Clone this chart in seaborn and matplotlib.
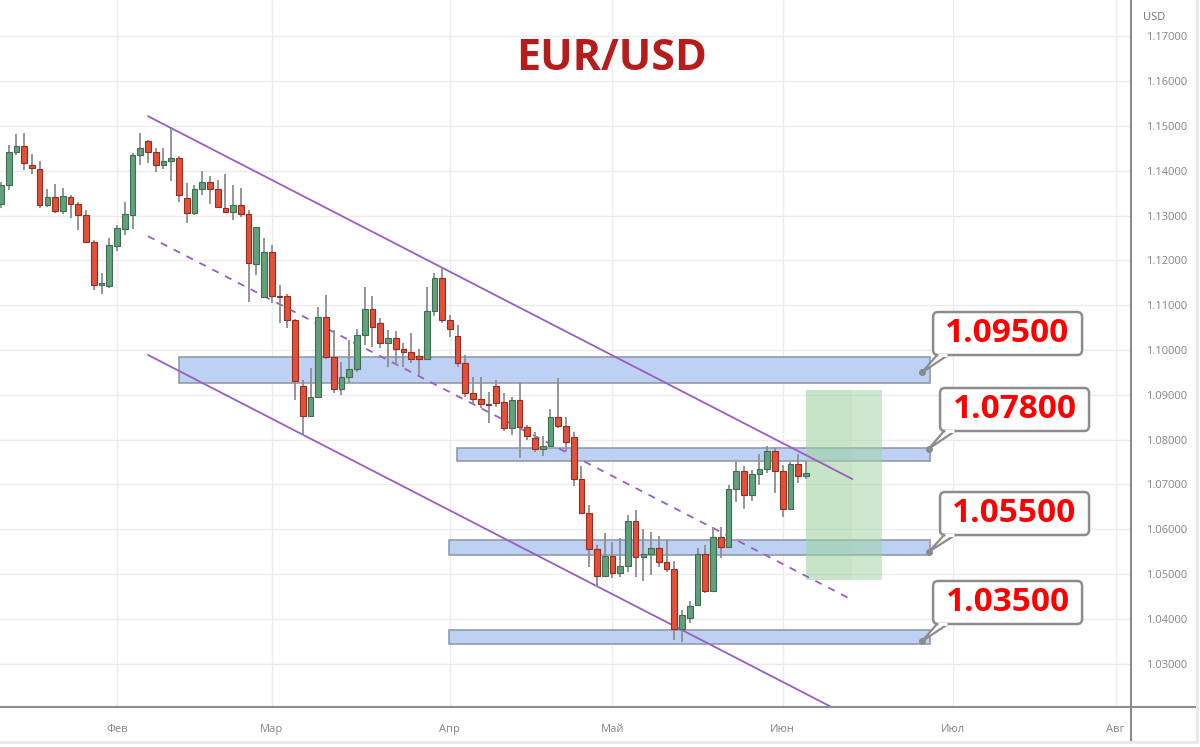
"""
EUR/USD: дневные свечи, канал и уровни
"""

import matplotlib
matplotlib.use('Agg')
import matplotlib.pyplot as plt
from matplotlib.patches import Rectangle, FancyBboxPatch, Polygon
from matplotlib.lines import Line2D
import seaborn as sns
import pandas as pd
import numpy as np

# Дневные свечи (торговые дни)
dates = pd.bdate_range('2022-01-11', '2022-06-06')
opens = [1.1327, 1.1368, 1.1441, 1.1456, 1.1413, 1.1405, 1.1324, 1.1342, 1.1311, 1.1342,
         1.1326, 1.1301, 1.1242, 1.1145, 1.1143, 1.1233, 1.1269, 1.1301, 1.1435, 1.1467,
         1.1443, 1.1414, 1.1423, 1.1429, 1.1339, 1.1305, 1.1359, 1.1374, 1.1359, 1.1316,
         1.1309, 1.1324, 1.1304, 1.1192, 1.1119, 1.1219, 1.1121, 1.1121, 1.1067, 1.0920,
         1.0853, 1.0896, 1.1074, 1.0984, 1.0912, 1.0940, 1.0957, 1.1033, 1.1092, 1.1060,
         1.1015, 1.1027, 1.1002, 1.0996, 1.0987, 1.0981, 1.1086, 1.1160, 1.1067, 1.1031,
         1.0970, 1.0903, 1.0891, 1.0879, 1.0920, 1.0883, 1.0827, 1.0888, 1.0829, 1.0803,
         1.0779, 1.0786, 1.0850, 1.0831, 1.0806, 1.0711, 1.0637, 1.0555, 1.0496, 1.0541,
         1.0503, 1.0518, 1.0619, 1.0539, 1.0545, 1.0557, 1.0526, 1.0511, 1.0377, 1.0401,
         1.0431, 1.0545, 1.0461, 1.0582, 1.0560, 1.0689, 1.0731, 1.0676, 1.0723, 1.0734,
         1.0775, 1.0731, 1.0644, 1.0746, 1.0719]
highs = [1.1376, 1.1458, 1.1482, 1.1485, 1.1437, 1.1423, 1.1359, 1.1371, 1.1361, 1.1346,
         1.1331, 1.1312, 1.1246, 1.1173, 1.1249, 1.1279, 1.1331, 1.1439, 1.1485, 1.1469,
         1.1450, 1.1450, 1.1495, 1.1432, 1.1372, 1.1368, 1.1399, 1.1388, 1.1379, 1.1393,
         1.1368, 1.1361, 1.1312, 1.1275, 1.1249, 1.1234, 1.1145, 1.1125, 1.1070, 1.0933,
         1.0959, 1.1095, 1.1123, 1.1045, 1.0974, 1.1022, 1.1048, 1.1140, 1.1121, 1.1071,
         1.1045, 1.1043, 1.1015, 1.1039, 1.1002, 1.1140, 1.1171, 1.1185, 1.1078, 1.1056,
         1.0989, 1.0940, 1.0940, 1.0907, 1.0933, 1.0905, 1.0896, 1.0926, 1.0833, 1.0818,
         1.0807, 1.0868, 1.0937, 1.0851, 1.0818, 1.0740, 1.0654, 1.0565, 1.0592, 1.0572,
         1.0580, 1.0632, 1.0643, 1.0600, 1.0594, 1.0585, 1.0576, 1.0529, 1.0420, 1.0440,
         1.0557, 1.0565, 1.0606, 1.0606, 1.0699, 1.0751, 1.0740, 1.0732, 1.0768, 1.0786,
         1.0781, 1.0743, 1.0751, 1.0768, 1.0753]
lows = [1.1316, 1.1357, 1.1435, 1.1402, 1.1394, 1.1318, 1.1320, 1.1305, 1.1303, 1.1294,
        1.1268, 1.1238, 1.1134, 1.1125, 1.1138, 1.1222, 1.1257, 1.1269, 1.1413, 1.1417,
        1.1398, 1.1404, 1.1377, 1.1331, 1.1283, 1.1301, 1.1346, 1.1327, 1.1318, 1.1309,
        1.1290, 1.1298, 1.1108, 1.1167, 1.1117, 1.1106, 1.1060, 1.1050, 1.0888, 1.0810,
        1.0851, 1.0892, 1.0981, 1.0903, 1.0900, 1.0926, 1.0952, 1.1011, 1.1007, 1.1004,
        1.0963, 1.0967, 1.0963, 1.0970, 1.0944, 1.0978, 1.1075, 1.1060, 1.1030, 1.0963,
        1.0896, 1.0877, 1.0870, 1.0836, 1.0873, 1.0820, 1.0810, 1.0758, 1.0799, 1.0773,
        1.0763, 1.0783, 1.0825, 1.0773, 1.0696, 1.0635, 1.0516, 1.0472, 1.0494, 1.0490,
        1.0493, 1.0505, 1.0494, 1.0485, 1.0498, 1.0515, 1.0505, 1.0353, 1.0349, 1.0390,
        1.0428, 1.0458, 1.0459, 1.0535, 1.0559, 1.0661, 1.0644, 1.0664, 1.0699, 1.0726,
        1.0680, 1.0628, 1.0643, 1.0704, 1.0711]
closes = [1.1368, 1.1441, 1.1456, 1.1417, 1.1406, 1.1324, 1.1342, 1.1311, 1.1344, 1.1326,
          1.1301, 1.1242, 1.1145, 1.1150, 1.1234, 1.1272, 1.1303, 1.1435, 1.1452, 1.1443,
          1.1414, 1.1423, 1.1429, 1.1346, 1.1305, 1.1359, 1.1374, 1.1359, 1.1320, 1.1309,
          1.1324, 1.1303, 1.1194, 1.1274, 1.1219, 1.1120, 1.1119, 1.1067, 1.0931, 1.0853,
          1.0896, 1.1074, 1.0984, 1.0912, 1.0940, 1.0957, 1.1033, 1.1092, 1.1051, 1.1015,
          1.1027, 1.1002, 1.0996, 1.0981, 1.0981, 1.1086, 1.1160, 1.1067, 1.1048, 1.0970,
          1.0903, 1.0891, 1.0879, 1.0878, 1.0882, 1.0827, 1.0888, 1.0829, 1.0809, 1.0779,
          1.0786, 1.0850, 1.0831, 1.0795, 1.0711, 1.0637, 1.0555, 1.0496, 1.0541, 1.0503,
          1.0518, 1.0619, 1.0539, 1.0545, 1.0557, 1.0526, 1.0511, 1.0377, 1.0408, 1.0429,
          1.0545, 1.0461, 1.0582, 1.0560, 1.0689, 1.0731, 1.0676, 1.0723, 1.0734, 1.0775,
          1.0731, 1.0644, 1.0746, 1.0719, 1.0725]

# Уровни поддержки/сопротивления (зоны)
levels = [1.095, 1.078, 1.055, 1.035]
level_labels = ['1.09500', '1.07800', '1.05500', '1.03500']
zone_low = [1.0927, 1.0753, 1.0542, 1.0344]
zone_high = [1.0985, 1.0782, 1.0576, 1.0375]

# Канал: верхняя, средняя и нижняя граница (начало / конец)
channel_top = [1.1522, 1.0712]
channel_mid = [1.1254, 1.0442]
channel_bot = [1.0989, 1.0179]

# Зона цели (зелёный прямоугольник)
target_range = [1.0487, 1.0911]

month_starts = ['2022-02-01', '2022-03-01', '2022-04-01', '2022-05-02',
                '2022-06-01', '2022-07-01', '2022-08-01']
month_labels = ['Фев', 'Мар', 'Апр', 'Май', 'Июн', 'Июл', 'Авг']
price_ticks = [1.03, 1.04, 1.05, 1.06, 1.07, 1.08, 1.09, 1.10,
               1.11, 1.12, 1.13, 1.14, 1.15, 1.16, 1.17]

GREEN = '#62a07c'
GREEN_EDGE = '#3d6e52'
RED = '#e0513b'
RED_EDGE = '#9a2c1d'
WICK = '#8e8e8e'
PURPLE = '#9b5cc4'
ZONE_FC = '#b9cff4'
ZONE_EC = '#8e97a3'
AXIS_GREY = '#8c8c8c'

sns.set_theme(style='white')
plt.rcParams['font.family'] = ['Open Sans', 'DejaVu Sans']

fig = plt.figure(figsize=(12, 7.47), dpi=100)
fig.patch.set_facecolor('white')
ax = fig.add_axes([0, 1 - 707 / 747, 1131 / 1200, 707 / 747])

XLIM = (-0.12, 146.0)
YLIM = (1.02031, 1.17813)
ax.set_xlim(*XLIM)
ax.set_ylim(*YLIM)
# размер пикселя в единицах данных
x_px = (XLIM[1] - XLIM[0]) / 1131
y_px = (YLIM[1] - YLIM[0]) / 707

# календарь торговых дней, включая будущие бары
cal = pd.bdate_range('2022-01-11', '2022-08-31')
pos = cal.get_indexer(dates)
o = np.array(opens)
h = np.array(highs)
l = np.array(lows)
c = np.array(closes)
up = c >= o

# зоны уровней
zone_x0 = [23.0, 58.9, 57.9, 57.9]
zone_x1 = 120.0
for lo, hi, x0 in zip(zone_low, zone_high, zone_x0):
    ax.add_patch(Rectangle((x0, lo), zone_x1 - x0, hi - lo, facecolor=ZONE_FC,
                           edgecolor=ZONE_EC, lw=1.2, alpha=0.95, zorder=1))

# зелёная зона цели
ax.add_patch(Rectangle((104.0, target_range[0]), 9.8, target_range[1] - target_range[0],
                       facecolor='#9fd3a2', edgecolor='none', alpha=0.5, zorder=1.5))
ax.add_patch(Rectangle((104.0, target_range[0]), 6.0, target_range[1] - target_range[0],
                       facecolor='#9fd3a2', edgecolor='none', alpha=0.15, zorder=1.6))

# канал
ch_x = [19.0, 110.0]
sns.lineplot(x=ch_x, y=channel_top, ax=ax, color=PURPLE, lw=1.3, zorder=2)
sns.lineplot(x=ch_x, y=channel_bot, ax=ax, color=PURPLE, lw=1.3, zorder=2)
ax.plot(ch_x, channel_mid, color=PURPLE, lw=1.3, dashes=(4, 4), zorder=2)

# свечи
ax.vlines(pos, l, h, color=WICK, lw=1.3, zorder=3)
body = np.maximum(np.abs(c - o), 0.00014)
ax.bar(pos[up], body[up], bottom=o[up], width=0.74, color=GREEN,
       edgecolor=GREEN_EDGE, lw=0.8, zorder=4)
ax.bar(pos[~up], body[~up], bottom=c[~up], width=0.74, color=RED,
       edgecolor=RED_EDGE, lw=0.8, zorder=4)

# выноски с уровнями
dot_x = [119.0, 119.9, 119.9, 119.0]
box_left = [120.43, 121.33, 121.33, 120.43]
box_top = [1.10848, 1.09152, 1.06830, 1.04844]
box_w = 149 * x_px
box_h = 43 * y_px
for lvl, lab, dx, bx, bt in zip(levels, level_labels, dot_x, box_left, box_top):
    tail = Polygon([(bx + 4 * x_px, bt - box_h), (bx + 15 * x_px, bt - box_h), (dx, lvl)],
                   closed=True, fc='white', ec=AXIS_GREY, lw=1.6, zorder=6,
                   clip_on=False)
    ax.add_patch(tail)
    box = FancyBboxPatch((bx, bt - box_h), box_w, box_h,
                         boxstyle=f'round,pad=0,rounding_size={5 * x_px}',
                         mutation_aspect=y_px / x_px, fc='white', ec=AXIS_GREY,
                         lw=1.8, zorder=6.5, clip_on=False)
    ax.add_patch(box)
    # белая полоса, скрывающая основание хвоста
    ax.plot([bx + 4.8 * x_px, bx + 14.2 * x_px], [bt - box_h] * 2, color='white',
            lw=2.2, zorder=6.6, solid_capstyle='butt', clip_on=False)
    ax.text(bx + box_w / 2, bt - box_h / 2, lab, ha='center', va='center',
            fontsize=24, fontweight='bold', color='#ff0000', zorder=7, clip_on=False)
    ax.plot(dx, lvl, 'o', ms=4, color='#8a8a8a', zorder=7)

# оси
ax.set_xticks(cal.get_indexer(pd.to_datetime(month_starts)))
ax.set_xticklabels(month_labels)
ax.yaxis.tick_right()
ax.set_yticks(price_ticks)
ax.set_yticklabels([f'{t:.5f}' for t in price_ticks])
ax.tick_params(axis='y', length=0, pad=11, labelsize=8, labelcolor='#858585')
ax.tick_params(axis='x', length=0, pad=12, labelsize=8, labelcolor='#858585')
ax.grid(True, color='#ececec', lw=1.0)
ax.set_axisbelow(True)
for side in ['top', 'left']:
    ax.spines[side].set_visible(False)
for side in ['right', 'bottom']:
    ax.spines[side].set_color(AXIS_GREY)
    ax.spines[side].set_linewidth(1.5)

# продолжение линий осей и рамка
fig.add_artist(Line2D([1131 / 1200, 1196 / 1200], [1 - 707 / 747] * 2,
                      color=AXIS_GREY, lw=1.5))
fig.add_artist(Line2D([1131 / 1200] * 2, [1 - 707 / 747, 1 - 741 / 747],
                      color=AXIS_GREY, lw=1.5))
fig.add_artist(Line2D([0, 1197 / 1200], [1 - 742 / 747] * 2, color='#e8e8e8', lw=2))
fig.add_artist(Line2D([1197 / 1200] * 2, [1, 1 - 742 / 747], color='#e8e8e8', lw=2))

fig.text(1143 / 1200, 1 - 17 / 747, 'USD', ha='left', va='center',
         fontsize=8, color='#707070')
fig.text(612 / 1200, 1 - 59 / 747, 'EUR/USD', ha='center', va='center',
         fontsize=31, fontweight='bold', color='#b71c1c')

fig.savefig('out.png', dpi=100, facecolor='white')
